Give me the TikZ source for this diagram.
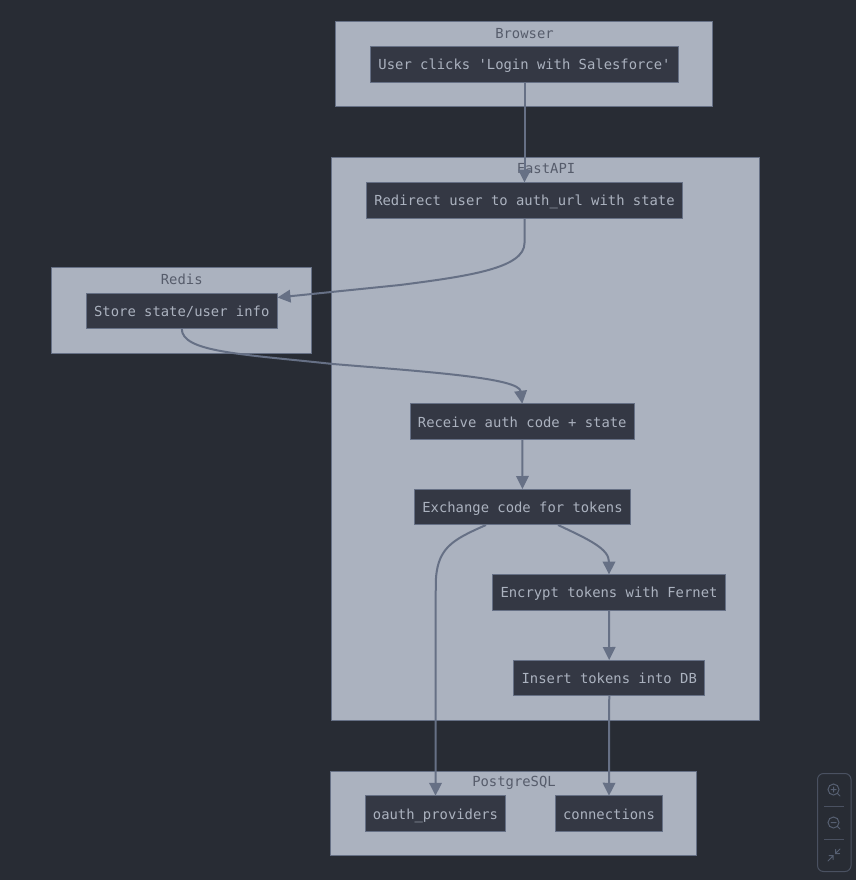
\documentclass[tikz,border=0pt]{standalone}
\usepackage{fontspec}
\setmonofont{DejaVu Sans Mono}
\usetikzlibrary{arrows.meta}
\definecolor{bgdark}{HTML}{282C34}
\definecolor{panelgray}{HTML}{ABB2BF}
\definecolor{boxdark}{HTML}{343844}
\definecolor{edgegray}{HTML}{667085}
\definecolor{titlegray}{HTML}{565C6B}
\tikzset{
  cluster/.style={draw=edgegray,fill=panelgray,line width=1pt,inner sep=0pt,outer sep=0pt},
  clustertitle/.style={text=titlegray,font=\ttfamily\fontsize{13.86}{16}\selectfont,inner sep=0pt,text height=12pt,text depth=1pt},
  stepbox/.style={draw=edgegray,fill=boxdark,text=panelgray,line width=1pt,font=\ttfamily\fontsize{13.86}{16}\selectfont,
    inner xsep=7.7pt,inner ysep=0pt,outer sep=0pt,minimum height=35.5pt,text height=12pt,text depth=1pt},
  flow/.style={draw=edgegray,line width=2pt,-{Triangle[length=13pt,width=12.5pt]}},
  zoomicon/.style={draw=edgegray!75!bgdark,line width=1pt,line cap=round}
}
\begin{document}
\begin{tikzpicture}[x=1pt,y=-1pt]
\useasboundingbox[fill=bgdark] (0,0) rectangle (856,880);

% clusters
\node[cluster,minimum width=377pt,minimum height=85pt] (browser) at (524.25,64.5) {};
\node[cluster,minimum width=428pt,minimum height=562.5pt] (fastapi) at (545.75,438.75) {};
\node[cluster,minimum width=259.5pt,minimum height=85.5pt] (redis) at (181.5,310.25) {};
\node[cluster,minimum width=366pt,minimum height=84.5pt] (postgres) at (513.75,813.25) {};

\node[clustertitle] (browsertitle) at (524.5,33) {Browser};
\node[clustertitle] (fastapititle) at (546,167.5) {FastAPI};
\node[clustertitle] (redistitle) at (181.75,279) {Redis};
\node[clustertitle] (postgrestitle) at (514,780.5) {PostgreSQL};

% steps
\node[stepbox] (clicks) at (524.5,64.5) {User clicks 'Login with Salesforce'};
\node[stepbox] (redirect) at (524.5,200.25) {Redirect user to auth\_url with state};
\node[stepbox] (store) at (181.75,310.75) {Store state/user info};
\node[stepbox] (receive) at (522.25,421.5) {Receive auth code + state};
\node[stepbox] (exchange) at (522.5,506.75) {Exchange code for tokens};
\node[stepbox] (encrypt) at (609,592.25) {Encrypt tokens with Fernet};
\node[stepbox] (insert) at (609.25,677.75) {Insert tokens into DB};
\node[stepbox] (providers) at (435.5,813.5) {oauth\_providers};
\node[stepbox] (connections) at (609,813.5) {connections};

% edge ends that are not at a side centre
\coordinate (exchangeleft) at (486,525);
\coordinate (exchangeright) at (558,525);
\coordinate (storeentry) at (277.5,297.5);

\draw[flow] (clicks) -- (redirect);
\draw[flow] (redirect.south) -- (524.5,243) .. controls (524.5,268) and (470,276) .. (400,285) -- (storeentry);
\draw[flow] (store.south) .. controls (181.5,352) and (240,354) .. (333,364) .. controls (430,372) and (519,378) .. (receive.north);
\draw[flow] (receive) -- (exchange);
\draw[flow] (exchangeleft) .. controls (452,540) and (436,548) .. (435.75,585) -- (providers.north);
\draw[flow] (exchangeright) .. controls (590,540) and (609,549) .. (encrypt.north);
\draw[flow] (encrypt) -- (insert);
\draw[flow] (insert.south) -- (connections.north);

% zoom controls
\draw[edgegray!55!bgdark,line width=1pt,rounded corners=6pt] (817.5,773.5) rectangle (851,871.5);
\draw[edgegray!55!bgdark] (824,806.5) -- (844,806.5);
\draw[edgegray!55!bgdark] (824,839.5) -- (844,839.5);
\draw[zoomicon] (833.5,789.5) circle (5.5pt) (837.5,793.5) -- (840,796) (831,789.5) -- (836,789.5) (833.5,787) -- (833.5,792);
\draw[zoomicon] (833.5,822.5) circle (5.5pt) (837.5,826.5) -- (840,829) (831,822.5) -- (836,822.5);
\draw[zoomicon] (828,861) -- (833,856) (829,855.5) -- (833,855.5) -- (833,859.5);
\draw[zoomicon] (840,849) -- (835.5,853.5) (835.5,849.5) -- (835.5,853.5) -- (839.5,853.5);
\end{tikzpicture}
\end{document}
